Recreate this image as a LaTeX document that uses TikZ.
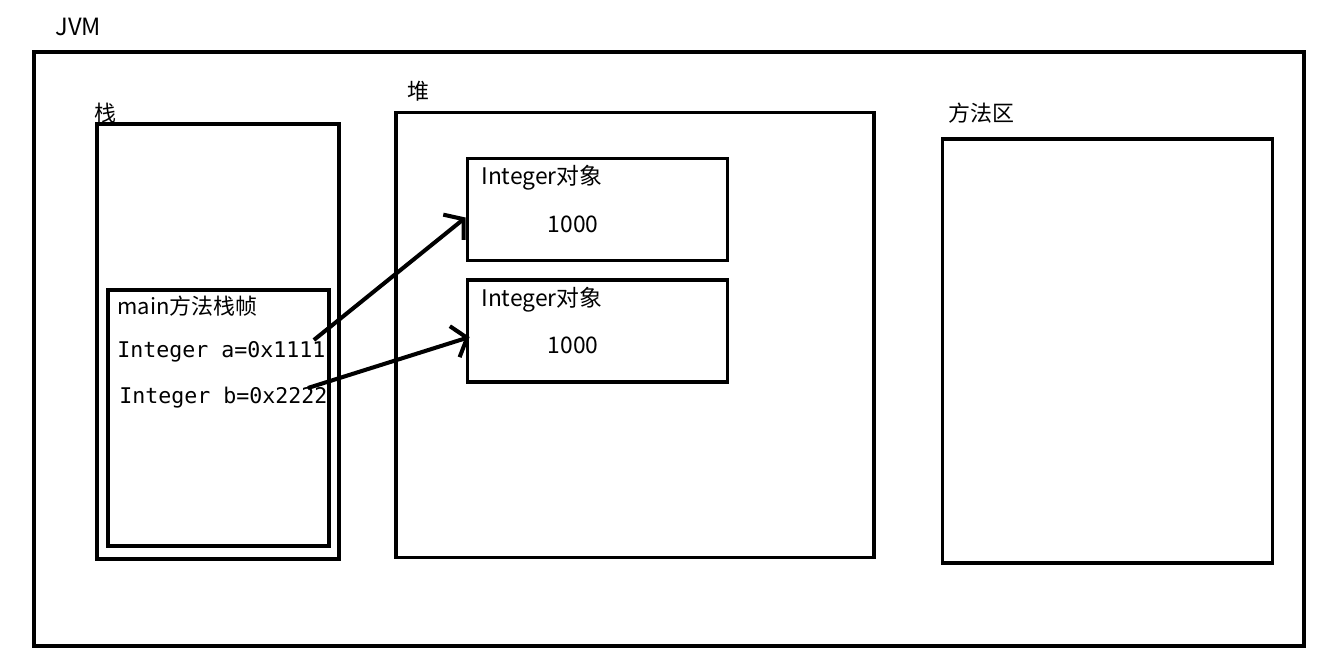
\documentclass[tikz,border=0pt]{standalone}
\usepackage{fontspec}
\setmainfont{Noto Sans CJK SC}
\setmonofont{DejaVu Sans Mono}
\usetikzlibrary{positioning, arrows.meta}

\tikzset{
    box/.style={draw, line width=2.2pt, inner sep=0pt},
    lbl/.style={inner sep=0pt, font=\fontsize{12.5}{14}\selectfont},
    code/.style={inner sep=0pt, anchor=west, font=\ttfamily\fontsize{12.3}{14}\selectfont},
    ref/.style={line width=2.3pt, -{Straight Barb[length=2.6mm,width=6.5mm]}}
}

\begin{document}
\begin{tikzpicture}[x=0.02cm, y=-0.02cm]
    \useasboundingbox (0,0) rectangle (1333,664);
    % JVM and its three areas
    \node[box, minimum width=25.42cm, minimum height=11.88cm] (jvm) at (669,349) {};
    \node[lbl, anchor=west, font=\fontsize{13.5}{15}\selectfont] (jvmlbl) at (55,27) {JVM};
    \node[box, minimum width=4.84cm, minimum height=8.70cm] (stack) at (218,341.5) {};
    \node[lbl] (stacklbl) at (105,113) {栈};
    \node[box, minimum width=9.56cm, minimum height=8.90cm] (heap) at (635,335) {};
    \node[lbl] (heaplbl) at (418,91) {堆};
    \node[box, minimum width=6.60cm, minimum height=8.48cm] (method) at (1107.5,351) {};
    \node[lbl, anchor=west] (methodlbl) at (948,113) {方法区};
    % stack frame of main
    \node[box, minimum width=4.42cm, minimum height=5.12cm] (frame) at (218.5,418) {};
    \node[lbl, anchor=west] (framelbl) at (117,306) {main方法栈帧};
    \node[code] (varA) at (117,352) {Integer a=0x1111};
    \node[code] (varB) at (119,398) {Integer b=0x2222};
    % Integer objects in the heap
    \node[box, minimum width=5.2cm, minimum height=2.04cm] (objA) at (597.5,209.5) {};
    \node[lbl, anchor=west, font=\fontsize{13}{15}\selectfont] (objAlbl) at (481,178) {Integer对象};
    \node[lbl, font=\fontsize{13}{15}\selectfont] (objAval) at (573,224) {1000};
    \node[box, minimum width=5.2cm, minimum height=2.04cm] (objB) at (597.5,331) {};
    \node[lbl, anchor=west, font=\fontsize{13}{15}\selectfont] (objBlbl) at (481,300) {Integer对象};
    \node[lbl, font=\fontsize{13}{15}\selectfont] (objBval) at (573,345) {1000};
    % references
    \draw[ref] ([shift={(-12,-12)}]varA.east) -- ([shift={(0,8)}]objA.west);
    \draw[ref] ([shift={(-20,-10)}]varB.east) -- ([shift={(4,6)}]objB.west);
\end{tikzpicture}
\end{document}
